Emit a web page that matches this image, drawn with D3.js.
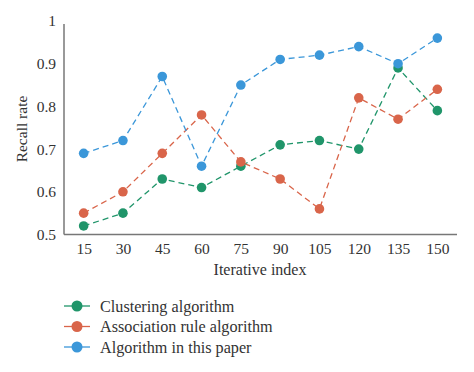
<!DOCTYPE html>
<html><head><meta charset="utf-8">
<script src="https://cdn.jsdelivr.net/npm/d3@7"></script>
<style>body{margin:0;background:#fff}svg{display:block}text{font-family:"Liberation Serif","DejaVu Serif",serif;fill:#333}</style>
</head><body><svg id="c" width="474" height="372"></svg>
<script>
const categories = ["15","30","45","60","75","90","105","120","135","150"];
const clustering = [0.52,0.55,0.63,0.61,0.66,0.71,0.72,0.70,0.89,0.79];
const association = [0.55,0.60,0.69,0.78,0.67,0.63,0.56,0.82,0.77,0.84];
const thisPaper = [0.69,0.72,0.87,0.66,0.85,0.91,0.92,0.94,0.90,0.96];
const yTicks = [0.5,0.6,0.7,0.8,0.9,1];
const seriesNames = ["Clustering algorithm","Association rule algorithm","Algorithm in this paper"];
const colors = ["#20956a","#d9654a","#3b97d9"];

const svg = d3.select("#c");
const x = d3.scalePoint().domain(categories).range([64,457]).padding(0.5);
const y = d3.scaleLinear().domain([0.5,1]).range([234.5,21]);

// axes
const ya = svg.append("g").attr("transform","translate(64,0)")
  .call(d3.axisLeft(y).tickValues(yTicks).tickFormat(d=>d===1?"1":d3.format(".1f")(d)).tickSize(0).tickPadding(8));
ya.select(".domain").attr("stroke","#777").attr("stroke-width",1.5).attr("d","M0,24V234.5");
ya.selectAll("text").style("font-family","Liberation Serif, serif").attr("font-size",15.5).attr("fill","#333");
const xa = svg.append("g").attr("transform","translate(0,234.5)")
  .call(d3.axisBottom(x).tickSize(0).tickPadding(8));
xa.select(".domain").attr("stroke","#777").attr("stroke-width",1.5).attr("d","M64,0H457");
xa.selectAll("text").style("font-family","Liberation Serif, serif").attr("font-size",15.5).attr("fill","#333");

svg.append("text").attr("x",260).attr("y",275).attr("text-anchor","middle").attr("font-size",16).text("Iterative index");
svg.append("text").attr("transform","translate(27,129) rotate(-90)").attr("text-anchor","middle").attr("font-size",15.5).text("Recall rate");

const all = [clustering, association, thisPaper];
const line = d3.line().x((d,i)=>x(categories[i])).y(d=>y(d));
all.forEach((s,k)=>{
  svg.append("path").attr("d",line(s)).attr("fill","none").attr("stroke",colors[k]).attr("stroke-width",1.3).attr("stroke-dasharray","6,4");
});
all.forEach((s,k)=>{
  svg.append("g").selectAll("circle").data(s).join("circle")
    .attr("cx",(d,i)=>x(categories[i])).attr("cy",d=>y(d)).attr("r",4.8).attr("fill",colors[k]);
});

// legend
const lg = svg.append("g");
seriesNames.forEach((n,k)=>{
  const yy = 306 + k*20.5;
  lg.append("line").attr("x1",64).attr("x2",90).attr("y1",yy).attr("y2",yy).attr("stroke",colors[k]).attr("stroke-width",1.3);
  lg.append("circle").attr("cx",77).attr("cy",yy).attr("r",5.5).attr("fill",colors[k]);
  lg.append("text").attr("x",100).attr("y",yy).attr("dy","0.35em").attr("font-size",16.2).text(n);
});
</script></body></html>
